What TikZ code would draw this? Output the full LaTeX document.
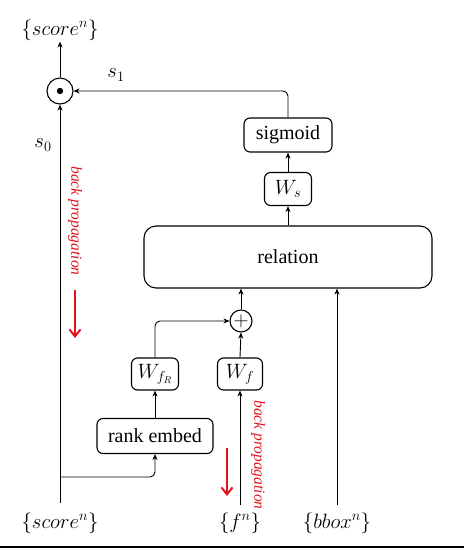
\documentclass[tikz,border=0pt]{standalone}
\usepackage{fontspec}
\setmainfont{Liberation Serif}
\usetikzlibrary{arrows.meta}
\begin{document}
\begin{tikzpicture}[x=1pt,y=-1pt,
  every node/.style={font=\fontsize{20}{24}\selectfont},
  box/.style={draw,line width=1.1pt,rounded corners=6pt,inner sep=0pt},
  arr/.style={-{Stealth[length=6pt,width=5pt]},line width=0.9pt},
  redarr/.style={-{Straight Barb[length=7pt,width=11pt,line width=2pt]},draw={rgb,255:red,225;green,20;blue,30},line width=2.2pt},
  redtxt/.style={font=\fontsize{15.5}{18}\selectfont\itshape,text={rgb,255:red,225;green,20;blue,30},rotate=-90},
  lbl/.style={inner sep=1pt}]
\useasboundingbox (0,0) rectangle (464,550);
% nodes
\node[lbl] (sctop) at (60,30) {$\{score^n\}$};
\node[draw,circle,line width=1.1pt,minimum size=26pt,inner sep=0pt] (dot) at (60,91) {};
\fill (dot.center) circle (3.2pt);
\node[box,minimum width=88pt,minimum height=34pt] (sig) at (288,135) {sigmoid};
\node[box,minimum width=47pt,minimum height=33pt] (ws) at (288,189) {$W_s$};
\node[box,rounded corners=12pt,minimum width=288pt,minimum height=62pt] (rel) at (288,257) {relation};
\node[draw,circle,line width=1.1pt,minimum size=22pt,inner sep=0pt] (plus) at (241,321) {$+$};
\node[box,minimum width=47pt,minimum height=32pt] (wfr) at (155,374) {$W_{f_R}$};
\node[box,minimum width=45pt,minimum height=32pt] (wf) at (240,374) {$W_f$};
\node[box,minimum width=116pt,minimum height=35pt] (rank) at (155,436) {rank embed};
\node[lbl] (scbot) at (60,523) {$\{score^n\}$};
\node[lbl] (fn) at (240,523) {$\{f^n\}$};
\node[lbl] (bbox) at (337,523) {$\{bbox^n\}$};
\node[lbl] (s1) at (116,75) {$s_1$};
\node[lbl] (s0) at (43,145) {$s_0$};
% free ends
\coordinate (s0s) at (60,503);
\coordinate (br) at (60,477);
\coordinate (fs) at (240,505);
\coordinate (bs) at (337,505);
% connectors
\draw[arr] (s0s) -- (dot.south);
\draw[arr,rounded corners=5pt] (br) -| (rank.south);
\draw[arr] (rank.north) -- (wfr.south);
\draw[arr,rounded corners=5pt] (wfr.north) |- (plus.west);
\draw[arr] (fs) -- (wf.south);
\draw[arr] (wf.north) -- (plus.south);
\draw[arr] (plus.north) -- (plus.north |- rel.south);
\draw[arr] (bs) -- (bs |- rel.south);
\draw[arr] (rel.north) -- (ws.south);
\draw[arr] (ws.north) -- (sig.south);
\draw[arr,rounded corners=5pt] (sig.north) |- (dot.east);
\draw[arr] (dot.north) -- (sctop.south);
% back propagation marks
\node[redtxt] (bp1) at (75,221) {back propagation};
\coordinate (r1a) at (75,290);
\coordinate (r1b) at (75,338);
\draw[redarr] (r1a) -- (r1b);
\node[redtxt] (bp2) at (258,455) {back propagation};
\coordinate (r2a) at (227,448);
\coordinate (r2b) at (227,496);
\draw[redarr] (r2a) -- (r2b);
% bottom rule
\draw[line width=2pt] (0,547) -- (464,547);
\end{tikzpicture}
\end{document}
